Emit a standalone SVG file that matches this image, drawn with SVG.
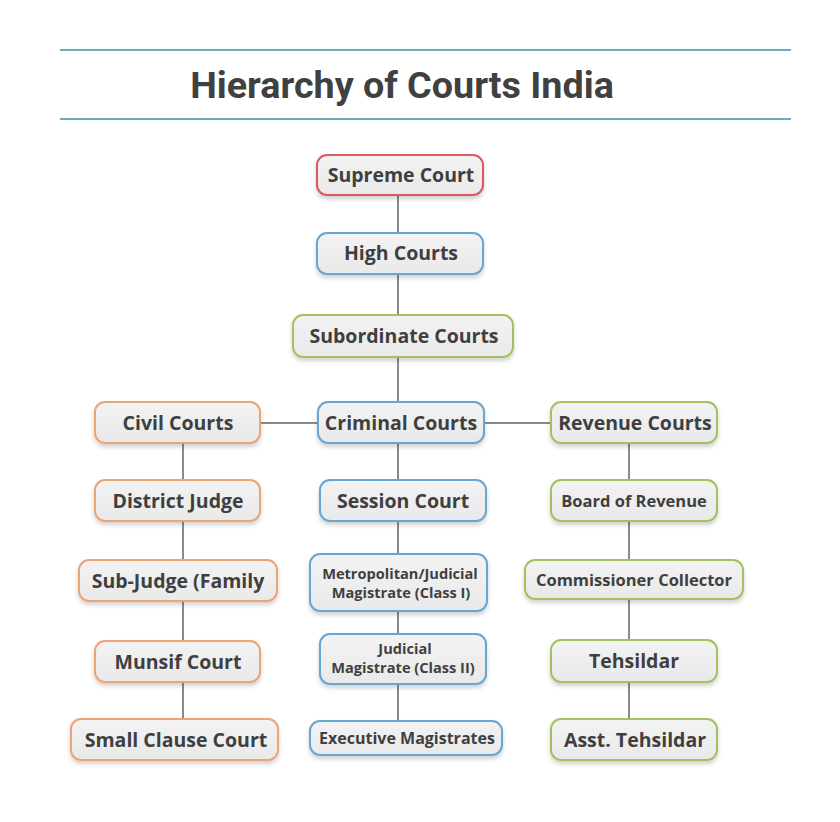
<svg xmlns="http://www.w3.org/2000/svg" width="840" height="822" viewBox="0 0 840 822">
<defs>
<linearGradient id="g" x1="0" y1="0" x2="0" y2="1"><stop offset="0" stop-color="#f3f3f3"/><stop offset="1" stop-color="#e9e9e9"/></linearGradient>
<filter id="sh" x="-10%" y="-20%" width="120%" height="160%"><feDropShadow dx="0" dy="3" stdDeviation="2" flood-color="#000" flood-opacity="0.18"/></filter>
</defs>
<style>
.n rect{fill:url(#g);stroke-width:2;filter:url(#sh)}
.red rect{stroke:#db5a5e}
.blue rect{stroke:#66a6d0}
.green rect{stroke:#a2c25f}
.orange rect{stroke:#eaa574}
.n text{font-family:"Open Sans","Liberation Sans",sans-serif;font-weight:700;font-size:19.5px;fill:#3f3f3f;text-anchor:middle}
.s16 text{font-size:16.5px}
.s14 text{font-size:14.6px}
.s15 text{font-size:16px}
.c line{stroke:#8a8a8a;stroke-width:2}
.rule{stroke:#6fa9c2;stroke-width:2}
</style>
<rect width="840" height="822" fill="#fff"/>
<line class="rule" x1="60" y1="50" x2="791" y2="50"/>
<line class="rule" x1="60" y1="119" x2="791" y2="119"/>
<text x="402" y="98" font-family="Roboto,'Liberation Sans',sans-serif" font-weight="700" font-size="37.7" fill="#404040" text-anchor="middle">Hierarchy of Courts India</text>
<g class="c">
<line x1="398" y1="195" x2="398" y2="233"/>
<line x1="398" y1="274" x2="398" y2="315"/>
<line x1="398" y1="357" x2="398" y2="402"/>
<line x1="260" y1="423" x2="318" y2="423"/>
<line x1="484" y1="423" x2="551" y2="423"/>
<line x1="183" y1="443" x2="183" y2="480"/>
<line x1="183" y1="521" x2="183" y2="560"/>
<line x1="183" y1="601" x2="183" y2="641"/>
<line x1="183" y1="682" x2="183" y2="719"/>
<line x1="398" y1="443" x2="398" y2="480"/>
<line x1="398" y1="521" x2="398" y2="554"/>
<line x1="398" y1="611" x2="398" y2="634"/>
<line x1="398" y1="684" x2="398" y2="721"/>
<line x1="629" y1="443" x2="629" y2="480"/>
<line x1="629" y1="521" x2="629" y2="560"/>
<line x1="629" y1="599" x2="629" y2="640"/>
<line x1="629" y1="682" x2="629" y2="719"/>
</g>
<g id="supreme" class="n red"><rect x="317" y="155" width="166" height="40" rx="10"/><text x="401" y="182">Supreme Court</text></g>
<g id="high" class="n blue"><rect x="317" y="233" width="166" height="41" rx="10"/><text x="401" y="260">High Courts</text></g>
<g id="subordinate" class="n green"><rect x="293" y="315" width="220" height="42" rx="10"/><text x="404" y="343">Subordinate Courts</text></g>
<g id="civil" class="n orange"><rect x="95" y="402" width="165" height="41" rx="10"/><text x="178" y="430">Civil Courts</text></g>
<g id="criminal" class="n blue"><rect x="318" y="402" width="166" height="41" rx="10"/><text x="401" y="430">Criminal Courts</text></g>
<g id="revenue" class="n green"><rect x="551" y="402" width="166" height="41" rx="10"/><text x="635" y="430">Revenue Courts</text></g>
<g id="district" class="n orange"><rect x="95" y="480" width="165" height="41" rx="10"/><text x="178" y="508">District Judge</text></g>
<g id="session" class="n blue"><rect x="320" y="480" width="166" height="41" rx="10"/><text x="403" y="508">Session Court</text></g>
<g id="board" class="n green s16"><rect x="551" y="480" width="166" height="41" rx="10"/><text x="634" y="507">Board of Revenue</text></g>
<g id="subjudge" class="n orange"><rect x="79" y="560" width="198" height="41" rx="10"/><text x="178" y="588">Sub-Judge (Family</text></g>
<g id="metro" class="n blue s14"><rect x="310" y="554" width="177" height="57" rx="10"/><text x="400" y="579">Metropolitan/Judicial</text><text x="401" y="598">Magistrate (Class I)</text></g>
<g id="commissioner" class="n green s16"><rect x="525" y="560" width="218" height="39" rx="10"/><text x="634" y="586">Commissioner Collector</text></g>
<g id="munsif" class="n orange"><rect x="95" y="641" width="165" height="41" rx="10"/><text x="178" y="669">Munsif Court</text></g>
<g id="judicial2" class="n blue s14"><rect x="320" y="634" width="166" height="50" rx="10"/><text x="405" y="654">Judicial</text><text x="403" y="673">Magistrate (Class II)</text></g>
<g id="tehsildar" class="n green"><rect x="551" y="640" width="166" height="42" rx="10"/><text x="634" y="668">Tehsildar</text></g>
<g id="small" class="n orange"><rect x="71" y="719" width="207" height="41" rx="10"/><text x="176" y="747">Small Clause Court</text></g>
<g id="executive" class="n blue s15"><rect x="310" y="721" width="192" height="34" rx="10"/><text x="407" y="744">Executive Magistrates</text></g>
<g id="asst" class="n green"><rect x="551" y="719" width="166" height="41" rx="10"/><text x="635" y="747">Asst. Tehsildar</text></g>
</svg>
